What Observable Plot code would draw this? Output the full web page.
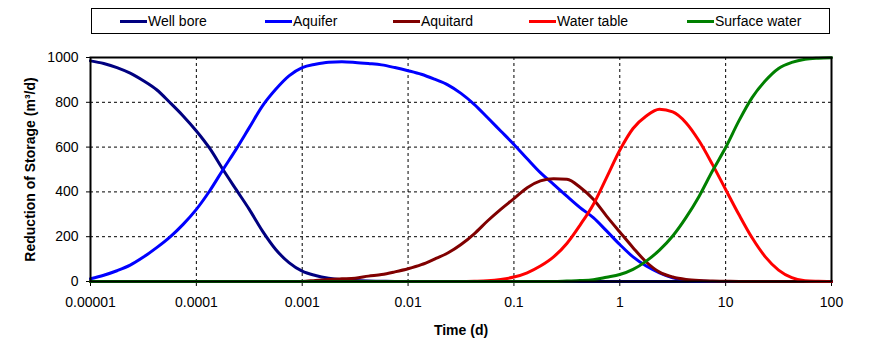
<!DOCTYPE html>
<html><head><meta charset="utf-8">
<script src="https://cdn.jsdelivr.net/npm/d3@7"></script>
<script src="https://cdn.jsdelivr.net/npm/@observablehq/plot@0.6"></script>
<style>
body{margin:0;background:#fff;font-family:"Liberation Sans",Arial,sans-serif;}
#wrap{position:relative;width:874px;height:360px;}
#legend{position:absolute;left:91px;top:8px;width:737px;height:24px;border:1px solid #000;background:#fff;}
.item{position:absolute;top:0;height:24px;display:flex;align-items:center;font-size:14px;color:#000;white-space:nowrap;}
.sw{width:27px;height:3px;margin-right:1px;}
</style></head><body>
<div id="wrap"><div id="chart"></div><div id="legend"></div></div>
<script>
const times = [
  1e-5, 1.334e-5, 1.778e-5, 2.371e-5, 3.162e-5, 4.217e-5, 5.623e-5, 7.499e-5,
  1e-4, 1.334e-4, 1.778e-4, 2.371e-4, 3.162e-4, 4.217e-4, 5.623e-4, 7.499e-4,
  1e-3, 1.334e-3, 1.778e-3, 2.371e-3, 3.162e-3, 4.217e-3, 5.623e-3, 7.499e-3,
  1e-2, 1.334e-2, 1.778e-2, 2.371e-2, 3.162e-2, 4.217e-2, 5.623e-2, 7.499e-2,
  0.1, 0.1334, 0.1778, 0.2371, 0.3162, 0.4217, 0.5623, 0.7499,
  1, 1.334, 1.778, 2.371, 3.162, 4.217, 5.623, 7.499,
  10, 13.34, 17.78, 23.71, 31.62, 42.17, 56.23, 74.99,
  100];
const wellBore = [
  985, 973, 955, 930, 896, 856, 799, 739, 672, 595, 501, 411, 322, 225, 143, 84, 46, 27, 15,
  8, 4, 2, 1,
  0, 0, 0, 0, 0, 0, 0, 0, 0, 0, 0, 0, 0, 0, 0, 0, 0, 0, 0, 0, 0, 0, 0, 0, 0, 0, 0, 0, 0, 0, 0, 0, 0, 0];
const aquifer = [
  12, 28, 48, 73, 109, 151, 198, 255, 322, 404, 498, 590, 687, 784, 858, 918, 955, 970, 979,
  981, 978, 973, 967, 955, 941, 925, 903, 878, 840, 791, 732, 672, 612, 548, 486, 434, 381, 330,
  285, 226, 165, 110, 69, 39, 17, 6, 2, 0, 0, 0, 0, 0, 0, 0, 0, 0, 0];
const aquitard = [
  0, 0, 0, 0, 0, 0, 0, 0, 0, 0, 0, 0, 0, 0, 0, 0, 0,
  5, 9,
  12, 15, 24, 31, 43, 57, 75, 100, 127, 165, 213, 270, 322, 370, 419, 449, 459, 456, 421,
  367, 292, 221, 151, 87, 42, 20, 9, 4, 2, 1, 0, 0, 0, 0, 0, 0, 0, 0];
const waterTable = [
  0, 0, 0, 0, 0, 0, 0, 0, 0, 0, 0, 0, 0, 0, 0, 0, 0, 0, 0, 0, 0, 0, 0, 0, 0, 0, 0, 0, 0,
  1, 3, 9, 20, 39, 69, 110, 170, 252,
  344, 464, 586, 683, 739, 769, 757, 709, 627, 523, 411, 299, 195, 110, 51, 17, 3, 1, 0];
const surfaceWater = [
  0, 0, 0, 0, 0, 0, 0, 0, 0, 0, 0, 0, 0, 0, 0, 0, 0, 0, 0, 0, 0, 0, 0, 0, 0, 0, 0, 0, 0, 0, 0, 0, 0, 0, 0, 0,
  2, 4,
  8, 19, 31, 54, 91, 140, 203, 285, 381, 493, 598, 717, 821, 896, 951, 978, 992, 997, 999];

const seriesNames = ["Well bore", "Aquifer", "Aquitard", "Water table", "Surface water"];
const seriesColors = ["#000080", "#0000ff", "#800000", "#ff0000", "#008000"];
const seriesValues = [wellBore, aquifer, aquitard, waterTable, surfaceWater];
const xTicks = [0.00001, 0.0001, 0.001, 0.01, 0.1, 1, 10, 100];
const xTickLabels = ["0.00001", "0.0001", "0.001", "0.01", "0.1", "1", "10", "100"];
const yTicks = [0, 200, 400, 600, 800, 1000];
const legendLeft = [28, 173, 301, 437, 595];

const data = [];
seriesNames.forEach((name, i) => times.forEach((t, j) => data.push({t, v: seriesValues[i][j], series: name})));

const chart = Plot.plot({
  width: 874, height: 360,
  marginLeft: 90, marginRight: 43, marginTop: 57, marginBottom: 79,
  style: {fontFamily: "'Liberation Sans', Arial, sans-serif", fontSize: "14px", color: "#000", background: "#fff", overflow: "visible"},
  x: {type: "log", domain: [0.00001, 100], ticks: xTicks, tickFormat: d => xTickLabels[xTicks.indexOf(d)], tickSize: 5, tickPadding: 11, label: null},
  y: {domain: [0, 1000], ticks: yTicks, tickFormat: d => String(d), tickSize: 4, tickPadding: 8, label: null},
  color: {domain: seriesNames, range: seriesColors},
  marks: [
    Plot.ruleX(xTicks.slice(1, -1), {stroke: "#000", strokeWidth: 1, strokeDasharray: "3,3"}),
    Plot.ruleY(yTicks.slice(1, -1), {stroke: "#000", strokeWidth: 1, strokeDasharray: "3,3"}),
    Plot.line(data, {x: "t", y: "v", stroke: "series", z: "series", strokeWidth: 3, curve: "monotone-x"}),
    Plot.frame({stroke: "#000", strokeWidth: 2}),
    Plot.text(["Time (d)"], {frameAnchor: "bottom", dy: 49, fontWeight: "bold", fontSize: 14, lineAnchor: "middle", textAnchor: "middle"}),
    Plot.text(["Reduction of Storage (m³/d)"], {frameAnchor: "left", dx: -60, rotate: -90, fontWeight: "bold", fontSize: 14, lineAnchor: "middle", textAnchor: "middle"})
  ]
});
document.getElementById("chart").appendChild(chart);

const legend = document.getElementById("legend");
seriesNames.forEach((name, i) => {
  const item = document.createElement("div");
  item.className = "item";
  item.style.left = legendLeft[i] + "px";
  const sw = document.createElement("span");
  sw.className = "sw";
  sw.style.background = seriesColors[i];
  const tx = document.createElement("span");
  tx.textContent = name;
  item.appendChild(sw);
  item.appendChild(tx);
  legend.appendChild(item);
});
</script>
</body></html>
